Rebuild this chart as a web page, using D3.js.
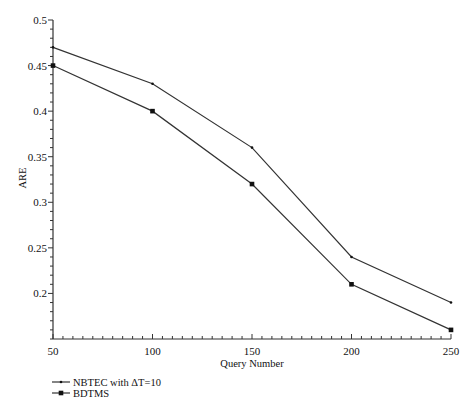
<!DOCTYPE html>
<html><head><meta charset="utf-8">
<script src="https://d3js.org/d3.v7.min.js"></script>
<style>body{margin:0;background:#fff}svg{display:block}</style>
</head><body>
<script>
const queryNumbers = [50, 100, 150, 200, 250];
const nbtec = [0.47, 0.43, 0.36, 0.24, 0.19];
const bdtms = [0.45, 0.40, 0.32, 0.21, 0.16];
const seriesNames = ["NBTEC with \u0394T=10", "BDTMS"];
const xTicks = [50, 100, 150, 200, 250];
const yTicks = [0.2, 0.25, 0.3, 0.35, 0.4, 0.45, 0.5];
const xLabel = "Query Number";
const yLabel = "ARE";

const W = 474, H = 413;
const svg = d3.select("body").append("svg").attr("width", W).attr("height", H);
const font = "'Liberation Serif', 'DejaVu Serif', serif";
const col = "#333";
const txt = "#111";

const x = d3.scaleLinear().domain([50, 250]).range([53, 451]);
const y = d3.scaleLinear().domain([0.15, 0.5]).range([339, 20]);

const xMinor = d3.range(50, 251, 5);
const yMinor = d3.range(15, 51, 1).map(d => d / 100);

const g = svg.append("g");
g.selectAll(".xm").data(xMinor).enter().append("line")
  .attr("x1", d => x(d)).attr("x2", d => x(d))
  .attr("y1", y(0.15)).attr("y2", d => y(0.15) - (xTicks.includes(d) ? 5 : 3))
  .attr("stroke", col).attr("stroke-width", 1);
g.selectAll(".ym").data(yMinor).enter().append("line")
  .attr("y1", d => y(d)).attr("y2", d => y(d))
  .attr("x1", x(50)).attr("x2", d => x(50) - (yTicks.some(t => Math.abs(t - d) < 1e-9) ? 5 : 3))
  .attr("stroke", col).attr("stroke-width", 1);

g.append("line").attr("x1", x(50)).attr("x2", x(50)).attr("y1", y(0.5)).attr("y2", y(0.15))
  .attr("stroke", col).attr("stroke-width", 1.2);
g.append("line").attr("x1", x(50)).attr("x2", x(250)).attr("y1", y(0.15)).attr("y2", y(0.15))
  .attr("stroke", col).attr("stroke-width", 1.2);

g.selectAll(".xl").data(xTicks).enter().append("text")
  .attr("x", d => x(d)).attr("y", 355).attr("text-anchor", "middle")
  .attr("font-family", font).attr("font-size", 11).attr("fill", txt).text(d => d);
g.selectAll(".yl").data(yTicks).enter().append("text")
  .attr("x", 47).attr("y", d => y(d) + 4).attr("text-anchor", "end")
  .attr("font-family", font).attr("font-size", 11).attr("fill", txt).text(d => d);

g.append("text").attr("x", 252).attr("y", 367).attr("text-anchor", "middle")
  .attr("font-family", font).attr("font-size", 10.5).attr("fill", txt).text(xLabel);
g.append("text").attr("transform", "translate(26,178) rotate(-90)").attr("text-anchor", "middle")
  .attr("font-family", font).attr("font-size", 10.5).attr("fill", txt).text(yLabel);

const line = d3.line().x((d, i) => x(queryNumbers[i])).y(d => y(d));
[nbtec, bdtms].forEach(s => {
  g.append("path").attr("d", line(s)).attr("fill", "none").attr("stroke", col).attr("stroke-width", 1.2);
});
g.selectAll(".m1").data(nbtec).enter().append("circle")
  .attr("cx", (d, i) => x(queryNumbers[i])).attr("cy", d => y(d)).attr("r", 1.3).attr("fill", "#111");
g.selectAll(".m2").data(bdtms).enter().append("rect")
  .attr("x", (d, i) => x(queryNumbers[i]) - 2.3).attr("y", d => y(d) - 2.3)
  .attr("width", 4.6).attr("height", 4.6).attr("fill", "#111");

const legY = [382, 393];
seriesNames.forEach((n, i) => {
  g.append("line").attr("x1", 52).attr("x2", 70).attr("y1", legY[i]).attr("y2", legY[i])
    .attr("stroke", col).attr("stroke-width", 1.2);
  if (i === 0) g.append("circle").attr("cx", 61).attr("cy", legY[i]).attr("r", 1.3).attr("fill", "#111");
  else g.append("rect").attr("x", 58.7).attr("y", legY[i] - 2.3).attr("width", 4.6).attr("height", 4.6).attr("fill", "#111");
  g.append("text").attr("x", 73).attr("y", legY[i] + 4).attr("font-family", font).attr("font-size", 10.5)
    .attr("fill", txt).text(n);
});
</script>
</body></html>
